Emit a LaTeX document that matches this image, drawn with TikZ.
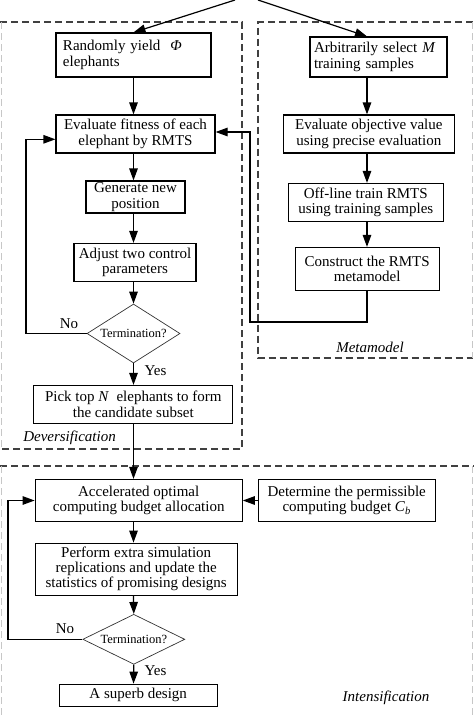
\documentclass[tikz,border=0pt]{standalone}
\usepackage{fontspec}
\setmainfont{Liberation Serif}
\usetikzlibrary{arrows.meta,shapes.geometric}
\begin{document}
\begin{tikzpicture}[x=1pt,y=-1pt,
  box/.style={draw, line width=1.2pt, align=center, inner sep=0pt,
    font=\fontsize{15}{15.5}\selectfont},
  lbox/.style={box, align=left},
  dec/.style={draw, diamond, aspect=1.6, line width=0.7pt, inner sep=0pt,
    font=\fontsize{12.5}{13}\selectfont, draw=black!80},
  arr/.style={line width=1.2pt, -{Triangle[length=12pt,width=8.5pt]}},
  ln/.style={line width=1.2pt},
  region/.style={dash pattern=on 7pt off 4pt, line width=1.2pt, draw=black!75},
  faint/.style={dash pattern=on 7pt off 4pt, line width=1.3pt, draw=black!22},
  lab/.style={font=\fontsize{15}{15}\selectfont, inner sep=0pt},
  ital/.style={font=\fontsize{15}{15}\selectfont\itshape, inner sep=0pt}]
\useasboundingbox (0,0) rectangle (474,716);

% regions
\draw[region] (0,22) -- (242,22) -- (242,449) -- (0,449);
\draw[faint] (1.5,22) -- (1.5,449);
\draw[region] (472.5,22) -- (258,22) -- (258,358) -- (472.5,358);
\draw[faint] (472.5,22) -- (472.5,358);
\draw[region] (0,466) -- (474,466);
\draw[faint] (1.5,466) -- (1.5,716);
\draw[faint] (472.5,466) -- (472.5,716);

% start points
\coordinate (s1) at (235,0);
\coordinate (s2) at (258,0);

% Deversification
\node[lbox, minimum height=44pt, text width=141pt, inner xsep=7pt] (b1) at (133.5,55) {Randomly yield \ \textit{Φ}\\elephants};
\node[box, minimum width=159pt, minimum height=38pt] (b3) at (135.5,134) {Evaluate fitness of each\\elephant by RMTS};
\node[box, minimum width=99pt, minimum height=32pt] (b5) at (135.5,197) {Generate new\\position};
\node[box, minimum width=122pt, minimum height=38pt] (b7) at (135,262.5) {Adjust two control\\parameters};
\node[dec, minimum width=93pt, minimum height=59pt] (d1) at (133.5,333.5) {Termination?};
\node[box, minimum width=199pt, minimum height=38pt] (b10) at (133.3,404.5) {Pick top \textit{N} \ elephants to form\\the candidate subset};
\node[ital] (ldev) at (69.5,438) {Deversification};

% Metamodel
\node[lbox, minimum height=40pt, text width=129pt, inner xsep=4pt] (b2) at (378.5,57) {Arbitrarily select \textit{M}\\training samples};
\node[box, minimum width=171pt, minimum height=38pt] (b4) at (368.8,134) {Evaluate objective value\\using precise evaluation};
\node[box, minimum width=155pt, minimum height=38pt] (b6) at (365.8,202.5) {Off-line train RMTS\\using training samples};
\node[box, minimum width=144pt, minimum height=43pt] (b8) at (367.2,269) {Construct the RMTS\\metamodel};
\node[ital] (lmeta) at (370,347) {Metamodel};

% Intensification
\node[box, minimum width=207pt, minimum height=42pt] (b12) at (138.7,500.5) {Accelerated optimal\\computing budget allocation};
\node[box, minimum width=177pt, minimum height=42pt] (b13) at (346.7,500.5) {Determine the permissible\\computing budget \textit{C}\textsubscript{\textit{b}}};
\node[box, minimum width=202pt, minimum height=52pt, font=\fontsize{15}{15}\selectfont] (b14) at (136.2,569.2) {Perform extra simulation\\replications and update the\\statistics of promising designs};
\node[dec, minimum width=102pt, minimum height=47pt] (d2) at (133.8,639.3) {Termination?};
\node[box, minimum width=158pt, minimum height=22pt] (b16) at (138.2,695.2) {A superb design};
\node[ital] (lint) at (386,698) {Intensification};

% labels
\node[lab] (no1) at (69,324) {No};
\node[lab] (yes1) at (155.5,371) {Yes};
\node[lab] (no2) at (65,629) {No};
\node[lab] (yes2) at (155.5,671) {Yes};

% spine coordinates
\coordinate (sp) at (133.5,0);
\coordinate (rp) at (367,0);

% arrows
\draw[arr] (s1) -- (sp |- b1.north);
\draw[arr] (s2) -- (rp |- b2.north);
\draw[arr] (sp |- b1.south) -- (sp |- b3.north);
\draw[arr] (sp |- b3.south) -- (sp |- b5.north);
\draw[arr] (sp |- b5.south) -- (sp |- b7.north);
\draw[arr] (sp |- b7.south) -- (d1.north);
\draw[arr] (d1.south) -- (sp |- b10.north);
\draw[arr] (sp |- b10.south) -- (sp |- b12.north);
\draw[arr] (rp |- b2.south) -- (rp |- b4.north);
\draw[arr] (rp |- b4.south) -- (rp |- b6.north);
\draw[arr] (rp |- b6.south) -- (rp |- b8.north);
\coordinate (f1) at (26,139.3);
\draw[arr] (d1.west) -- (f1 |- d1.west) -- (f1) -- (b3.west |- f1);
\coordinate (f2a) at (367,322);
\coordinate (f2b) at (250,132);
\draw[arr] (rp |- b8.south) -- (f2a) -- (f2a -| f2b) -- (f2b) -- (b3.east |- f2b);
\draw[arr] (b13.west) -- (b12.east);
\draw[arr] (sp |- b12.south) -- (sp |- b14.north);
\draw[arr] (sp |- b14.south) -- (d2.north);
\draw[arr] (d2.south) -- (sp |- b16.north);
\coordinate (f3) at (8,500.5);
\draw[arr] (d2.west) -- (f3 |- d2.west) -- (f3) -- (b12.west);
\end{tikzpicture}
\end{document}
